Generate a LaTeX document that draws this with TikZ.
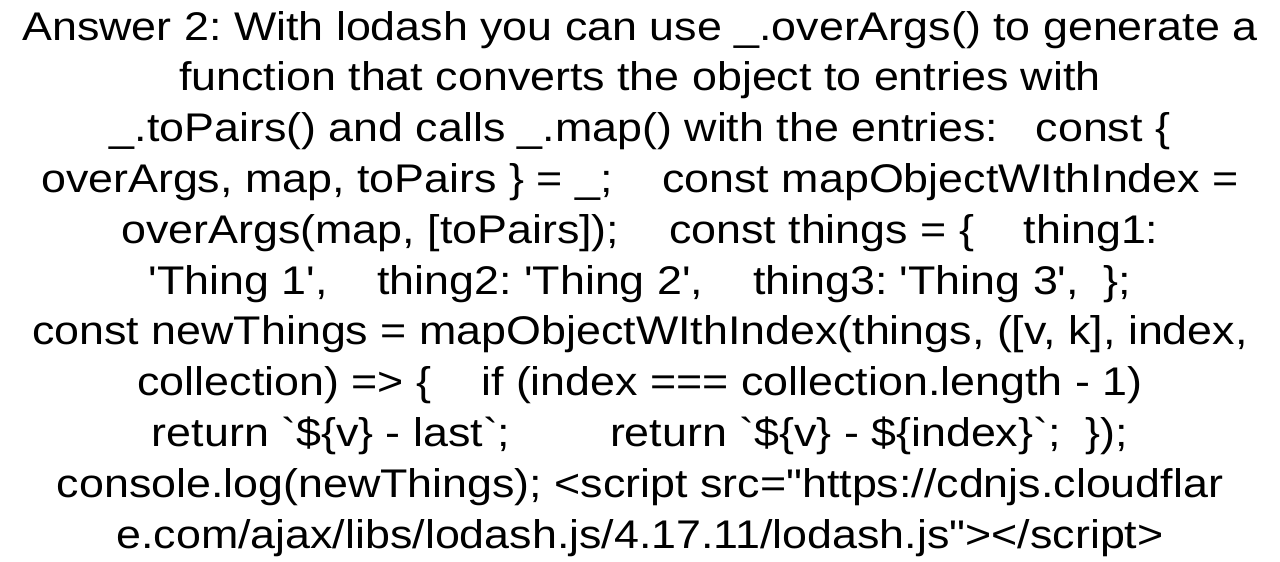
\documentclass[tikz,border=0pt]{standalone}
\usepackage{fontspec}
\setmainfont{Liberation Sans}[Ligatures=TeXOff]
\frenchspacing
\begin{document}
\begin{tikzpicture}[x=1pt,y=1pt,t/.style={anchor=base,inner sep=0pt,xscale=1.12,font=\fontsize{40}{50}\selectfont}]
\useasboundingbox (0,0) rectangle (1280,-562);
\def\yy#1{-40-50.8*#1}
\node[t] (l0) at (640,{\yy{0}}) {Answer 2: With lodash you can use \_.overArgs() to generate a};
\node[t] (l1) at (640,{\yy{1}}) {function that converts the object to entries with};
\node[t] (l2) at (640,{\yy{2}}) {\_.toPairs() and calls \_.map() with the entries:\ \ \ const \{};
\node[t] (l3) at (640,{\yy{3}}) {overArgs, map, toPairs \} = \_;\ \ \ \ const mapObjectWIthIndex =};
\node[t] (l4) at (640,{\yy{4}}) {overArgs(map, [toPairs]);\ \ \ \ const things = \{\ \ \ \ thing1:};
\node[t] (l5) at (640,{\yy{5}}) {'Thing 1',\ \ \ \ thing2: 'Thing 2',\ \ \ \ thing3: 'Thing 3',\ \ \};};
\node[t] (l6) at (640,{\yy{6}}) {const newThings = mapObjectWIthIndex(things, ([v, k], index,};
\node[t] (l7) at (640,{\yy{7}}) {collection) => \{\ \ \ \ if (index === collection.length - 1)};
\node[t] (l8) at (640,{\yy{8}}) {return `\$\{v\} - last`;\ \ \ \ \ \ \ \ return `\$\{v\} - \$\{index\}`;\ \ \});};
\node[t] (l9) at (640,{\yy{9}}) {console.log(newThings); <script src="https://cdnjs.cloudflar};
\node[t] (l10) at (640,{\yy{10}}) {e.com/ajax/libs/lodash.js/4.17.11/lodash.js"></script>};
\end{tikzpicture}
\end{document}
